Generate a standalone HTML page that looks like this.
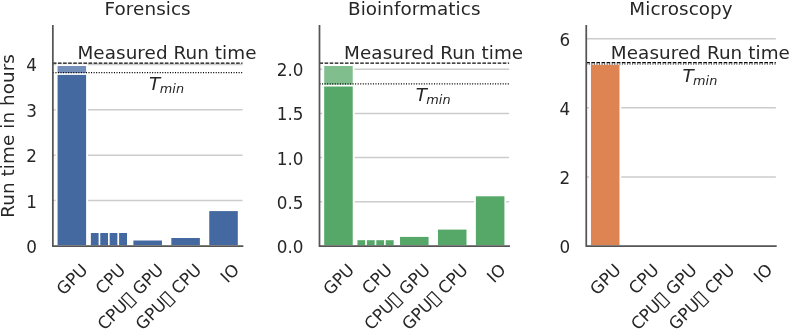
<!DOCTYPE html>
<html lang="en">
<head>
<meta charset="utf-8">
<title>Run time in hours</title>
<style>
html,body{margin:0;padding:0;background:#ffffff;}
body{width:790px;height:333px;overflow:hidden;}
svg{display:block;}
text{font-family:"DejaVu Sans", "Liberation Sans", sans-serif;fill:#262626;}
.t{font-size:18.33px;letter-spacing:0.08px;}
.k{font-size:16.8px;}
.sub{font-size:12.83px;font-style:italic;}
.it{font-style:italic;}
.tofu{font-size:20.1px;}
</style>
</head>
<body>
<svg width="790" height="333" viewBox="0 0 790 333">
<rect x="0" y="0" width="790" height="333" fill="#ffffff"/>
<g id="panel1">
<line x1="52.88" x2="242.48" y1="200.59" y2="200.59" stroke="#cccccc" stroke-width="1.53"/>
<line x1="52.88" x2="242.48" y1="155.18" y2="155.18" stroke="#cccccc" stroke-width="1.53"/>
<line x1="52.88" x2="242.48" y1="109.77" y2="109.77" stroke="#cccccc" stroke-width="1.53"/>
<line x1="52.88" x2="242.48" y1="64.36" y2="64.36" stroke="#cccccc" stroke-width="1.53"/>
<rect x="56.67" y="65.10" width="30.34" height="180.90" fill="#738eb8" stroke="#ffffff" stroke-width="1.8"/>
<rect x="56.67" y="74.00" width="30.34" height="172.00" fill="#4468a0" stroke="#ffffff" stroke-width="1.8"/>
<rect x="90.10" y="232.25" width="9.42" height="13.75" fill="#4468a0" stroke="#ffffff" stroke-width="1.5"/>
<rect x="99.52" y="232.25" width="9.42" height="13.75" fill="#4468a0" stroke="#ffffff" stroke-width="1.5"/>
<rect x="108.94" y="232.25" width="9.42" height="13.75" fill="#4468a0" stroke="#ffffff" stroke-width="1.5"/>
<rect x="118.36" y="232.25" width="9.42" height="13.75" fill="#4468a0" stroke="#ffffff" stroke-width="1.5"/>
<rect x="132.51" y="239.60" width="30.34" height="6.40" fill="#4468a0" stroke="#ffffff" stroke-width="1.8"/>
<rect x="170.43" y="237.10" width="30.34" height="8.90" fill="#4468a0" stroke="#ffffff" stroke-width="1.8"/>
<rect x="208.35" y="210.20" width="30.34" height="35.80" fill="#4468a0" stroke="#ffffff" stroke-width="1.8"/>
<line x1="52.88" x2="242.48" y1="63.0" y2="63.0" stroke="#0a0a0a" stroke-width="1.25" stroke-dasharray="3.6 1.49"/>
<line x1="52.88" x2="242.48" y1="72.6" y2="72.6" stroke="#000000" stroke-width="1.15" stroke-dasharray="1.05 1.494"/>
<path d="M52.85 25.8 V246.10 H242.48" fill="none" stroke="#555555" stroke-width="1.74" stroke-linecap="square" stroke-linejoin="miter"/>
<text class="t" x="147.68" y="14.9" text-anchor="middle">Forensics</text>
<text class="t" x="77.48" y="58.8">Measured Run time</text>
<text class="t it" x="149.08" y="89.8">T<tspan class="sub" dx="-0.7" dy="3.3">min</tspan></text>
<text class="k" x="36.88" y="252.95" text-anchor="end">0</text>
<text class="k" x="36.88" y="207.54" text-anchor="end">1</text>
<text class="k" x="36.88" y="162.13" text-anchor="end">2</text>
<text class="k" x="36.88" y="116.72" text-anchor="end">3</text>
<text class="k" x="36.88" y="71.31" text-anchor="end">4</text>
<text class="k" transform="translate(88.64 271.00) rotate(-45)" text-anchor="end">GPU</text>
<text class="k" transform="translate(126.56 271.00) rotate(-45)" text-anchor="end">CPU</text>
<text class="k" transform="translate(164.48 271.00) rotate(-45)" text-anchor="end">CPU<tspan class="tofu" dx="-1.3" dy="0.7" textLength="12.3" lengthAdjust="spacingAndGlyphs">▯</tspan><tspan dx="-1.1" dy="-0.7"> GPU</tspan></text>
<text class="k" transform="translate(202.40 271.00) rotate(-45)" text-anchor="end">GPU<tspan class="tofu" dx="-1.3" dy="0.7" textLength="12.3" lengthAdjust="spacingAndGlyphs">▯</tspan><tspan dx="-1.1" dy="-0.7"> CPU</tspan></text>
<text class="k" transform="translate(240.32 271.00) rotate(-45)" text-anchor="end">IO</text>
</g>
<g id="panel2">
<line x1="319.50" x2="509.10" y1="201.80" y2="201.80" stroke="#cccccc" stroke-width="1.53"/>
<line x1="319.50" x2="509.10" y1="157.60" y2="157.60" stroke="#cccccc" stroke-width="1.53"/>
<line x1="319.50" x2="509.10" y1="113.40" y2="113.40" stroke="#cccccc" stroke-width="1.53"/>
<line x1="319.50" x2="509.10" y1="69.20" y2="69.20" stroke="#cccccc" stroke-width="1.53"/>
<rect x="323.29" y="65.10" width="30.34" height="180.90" fill="#80be8e" stroke="#ffffff" stroke-width="1.8"/>
<rect x="323.29" y="85.60" width="30.34" height="160.40" fill="#55a868" stroke="#ffffff" stroke-width="1.8"/>
<rect x="356.72" y="239.45" width="9.42" height="6.55" fill="#55a868" stroke="#ffffff" stroke-width="1.5"/>
<rect x="366.14" y="239.45" width="9.42" height="6.55" fill="#55a868" stroke="#ffffff" stroke-width="1.5"/>
<rect x="375.56" y="239.45" width="9.42" height="6.55" fill="#55a868" stroke="#ffffff" stroke-width="1.5"/>
<rect x="384.98" y="239.45" width="9.42" height="6.55" fill="#55a868" stroke="#ffffff" stroke-width="1.5"/>
<rect x="399.13" y="236.00" width="30.34" height="10.00" fill="#55a868" stroke="#ffffff" stroke-width="1.8"/>
<rect x="437.05" y="228.70" width="30.34" height="17.30" fill="#55a868" stroke="#ffffff" stroke-width="1.8"/>
<rect x="474.97" y="195.40" width="30.34" height="50.60" fill="#55a868" stroke="#ffffff" stroke-width="1.8"/>
<line x1="319.50" x2="509.10" y1="63.0" y2="63.0" stroke="#0a0a0a" stroke-width="1.25" stroke-dasharray="3.6 1.49"/>
<line x1="319.50" x2="509.10" y1="83.8" y2="83.8" stroke="#000000" stroke-width="1.15" stroke-dasharray="1.05 1.494"/>
<path d="M319.50 25.8 V246.10 H509.10" fill="none" stroke="#555555" stroke-width="1.74" stroke-linecap="square" stroke-linejoin="miter"/>
<text class="t" x="414.30" y="14.9" text-anchor="middle">Bioinformatics</text>
<text class="t" x="344.10" y="58.8">Measured Run time</text>
<text class="t it" x="415.70" y="100.7">T<tspan class="sub" dx="-0.7" dy="3.3">min</tspan></text>
<text class="k" x="303.50" y="252.95" text-anchor="end">0.0</text>
<text class="k" x="303.50" y="208.75" text-anchor="end">0.5</text>
<text class="k" x="303.50" y="164.55" text-anchor="end">1.0</text>
<text class="k" x="303.50" y="120.35" text-anchor="end">1.5</text>
<text class="k" x="303.50" y="76.15" text-anchor="end">2.0</text>
<text class="k" transform="translate(355.26 271.00) rotate(-45)" text-anchor="end">GPU</text>
<text class="k" transform="translate(393.18 271.00) rotate(-45)" text-anchor="end">CPU</text>
<text class="k" transform="translate(431.10 271.00) rotate(-45)" text-anchor="end">CPU<tspan class="tofu" dx="-1.3" dy="0.7" textLength="12.3" lengthAdjust="spacingAndGlyphs">▯</tspan><tspan dx="-1.1" dy="-0.7"> GPU</tspan></text>
<text class="k" transform="translate(469.02 271.00) rotate(-45)" text-anchor="end">GPU<tspan class="tofu" dx="-1.3" dy="0.7" textLength="12.3" lengthAdjust="spacingAndGlyphs">▯</tspan><tspan dx="-1.1" dy="-0.7"> CPU</tspan></text>
<text class="k" transform="translate(506.94 271.00) rotate(-45)" text-anchor="end">IO</text>
</g>
<g id="panel3">
<line x1="586.25" x2="775.85" y1="176.92" y2="176.92" stroke="#cccccc" stroke-width="1.53"/>
<line x1="586.25" x2="775.85" y1="107.84" y2="107.84" stroke="#cccccc" stroke-width="1.53"/>
<line x1="586.25" x2="775.85" y1="38.76" y2="38.76" stroke="#cccccc" stroke-width="1.53"/>
<rect x="590.04" y="63.90" width="30.34" height="182.10" fill="#dd8452" stroke="#ffffff" stroke-width="1.8"/>
<line x1="586.25" x2="775.85" y1="62.6" y2="62.6" stroke="#0a0a0a" stroke-width="1.25" stroke-dasharray="3.6 1.49"/>
<line x1="586.25" x2="775.85" y1="64.0" y2="64.0" stroke="#000000" stroke-width="1.15" stroke-dasharray="1.05 1.494"/>
<path d="M586.25 25.8 V246.10 H775.85" fill="none" stroke="#555555" stroke-width="1.74" stroke-linecap="square" stroke-linejoin="miter"/>
<text class="t" x="681.05" y="14.9" text-anchor="middle">Microscopy</text>
<text class="t" x="610.85" y="58.8">Measured Run time</text>
<text class="t it" x="682.45" y="81.7">T<tspan class="sub" dx="-0.7" dy="3.3">min</tspan></text>
<text class="k" x="570.25" y="252.95" text-anchor="end">0</text>
<text class="k" x="570.25" y="183.87" text-anchor="end">2</text>
<text class="k" x="570.25" y="114.79" text-anchor="end">4</text>
<text class="k" x="570.25" y="45.71" text-anchor="end">6</text>
<text class="k" transform="translate(622.01 271.00) rotate(-45)" text-anchor="end">GPU</text>
<text class="k" transform="translate(659.93 271.00) rotate(-45)" text-anchor="end">CPU</text>
<text class="k" transform="translate(697.85 271.00) rotate(-45)" text-anchor="end">CPU<tspan class="tofu" dx="-1.3" dy="0.7" textLength="12.3" lengthAdjust="spacingAndGlyphs">▯</tspan><tspan dx="-1.1" dy="-0.7"> GPU</tspan></text>
<text class="k" transform="translate(735.77 271.00) rotate(-45)" text-anchor="end">GPU<tspan class="tofu" dx="-1.3" dy="0.7" textLength="12.3" lengthAdjust="spacingAndGlyphs">▯</tspan><tspan dx="-1.1" dy="-0.7"> CPU</tspan></text>
<text class="k" transform="translate(773.69 271.00) rotate(-45)" text-anchor="end">IO</text>
</g>
<text class="t" transform="translate(14.4 135.9) rotate(-90)" text-anchor="middle">Run time in hours</text>
</svg>
</body>
</html>
